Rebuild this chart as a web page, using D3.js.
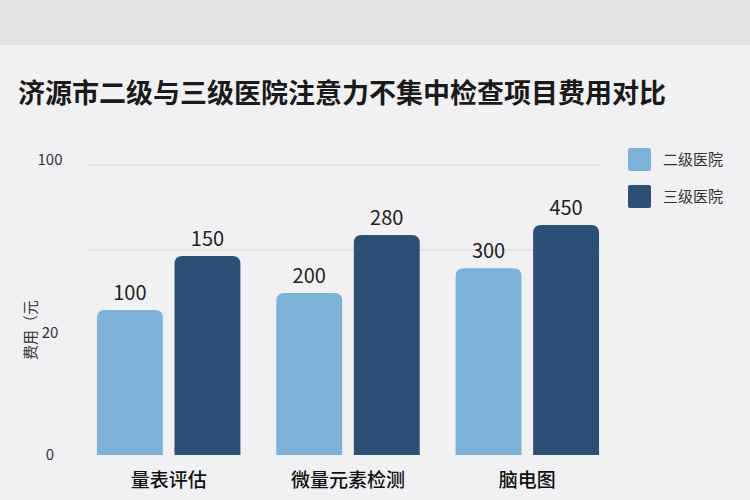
<!DOCTYPE html>
<html><head><meta charset="utf-8">
<script src="https://cdn.jsdelivr.net/npm/d3@7"></script>
<style>body{margin:0;background:#f1f1f3;font-family:"Noto Sans CJK SC","Noto Sans",sans-serif}</style>
</head><body><svg id="chart" width="750" height="500"></svg>
<script>
/* Data */
const categories = ["量表评估", "微量元素检测", "脑电图"];
const seriesNames = ["二级医院", "三级医院"];
const labelValues = [[100, 150], [200, 280], [300, 450]];
// bar heights as drawn, in axis units
const barHeights = [[30.6, 55.6], [38.5, 65.3], [50, 70]];
const yTicks = [0, 20, 100];

/* Colors */
const colors = ["#7eb2d9", "#2c4f76"];

var svg = d3.select('#chart');
svg.append('rect').attr('width', 750).attr('height', 45).attr('fill', '#e4e4e6');

svg.append('text').attr('x', 18).attr('y', 103).attr('font-size', 27).attr('font-weight', 'bold')
  .attr('fill', '#1a1a1a').text('济源市二级与三级医院注意力不集中检查项目费用对比');

var yScale = d3.scaleLinear().domain([0, 20, 100]).range([455, 333, 160]);
var x0 = d3.scaleBand().domain(categories).range([88, 608]).paddingInner(0.2).paddingOuter(0.05);
var x1 = d3.scaleBand().domain(seriesNames).range([0, x0.bandwidth()]).paddingInner(0.15);

// grid
svg.selectAll('.grid').data([100, 50]).enter().append('line')
  .attr('x1', 88).attr('x2', 600)
  .attr('y1', d => d === 100 ? 165 : 250).attr('y2', d => d === 100 ? 165 : 250)
  .attr('stroke', '#d6d6da').attr('stroke-width', 1);

svg.selectAll('.tick').data(yTicks).enter().append('text')
  .attr('x', 50).attr('y', d => yScale(d) + 5).attr('font-size', 15).attr('fill', '#333')
  .attr('text-anchor', 'middle').text(d => d);

svg.append('text').attr('transform', 'translate(36,330) rotate(-90)').attr('text-anchor', 'middle')
  .attr('font-size', 15).attr('fill', '#333').text('费用（元');

var g = svg.selectAll('.grp').data(categories).enter().append('g')
  .attr('transform', d => `translate(${x0(d)},0)`);
g.each(function(c, i) {
  var sel = d3.select(this);
  seriesNames.forEach((s, j) => {
    var top = yScale(barHeights[i][j]);
    sel.append('path').attr('fill', colors[j])
      .attr('d', roundTop(x1(s), top, x1.bandwidth(), yScale(0) - top, 8));
    sel.append('text').attr('x', x1(s) + x1.bandwidth() / 2).attr('y', top - 10)
      .attr('text-anchor', 'middle').attr('font-size', 20).attr('fill', '#222').text(labelValues[i][j]);
  });
  sel.append('text').attr('x', x0.bandwidth() / 2).attr('y', 487).attr('text-anchor', 'middle')
    .attr('font-size', 19).attr('font-weight', 500).attr('fill', '#111').text(c);
});

function roundTop(x, y, w, h, r) {
  return `M${x},${y + h}V${y + r}Q${x},${y} ${x + r},${y}H${x + w - r}Q${x + w},${y} ${x + w},${y + r}V${y + h}Z`;
}

// legend
var leg = svg.selectAll('.leg').data(seriesNames).enter().append('g')
  .attr('transform', (d, i) => `translate(628,${148 + i * 37})`);
leg.append('rect').attr('width', 23).attr('height', 23).attr('rx', 2).attr('fill', (d, i) => colors[i]);
leg.append('text').attr('x', 35).attr('y', 17).attr('font-size', 15).attr('fill', '#333').text(d => d);
</script></body></html>
